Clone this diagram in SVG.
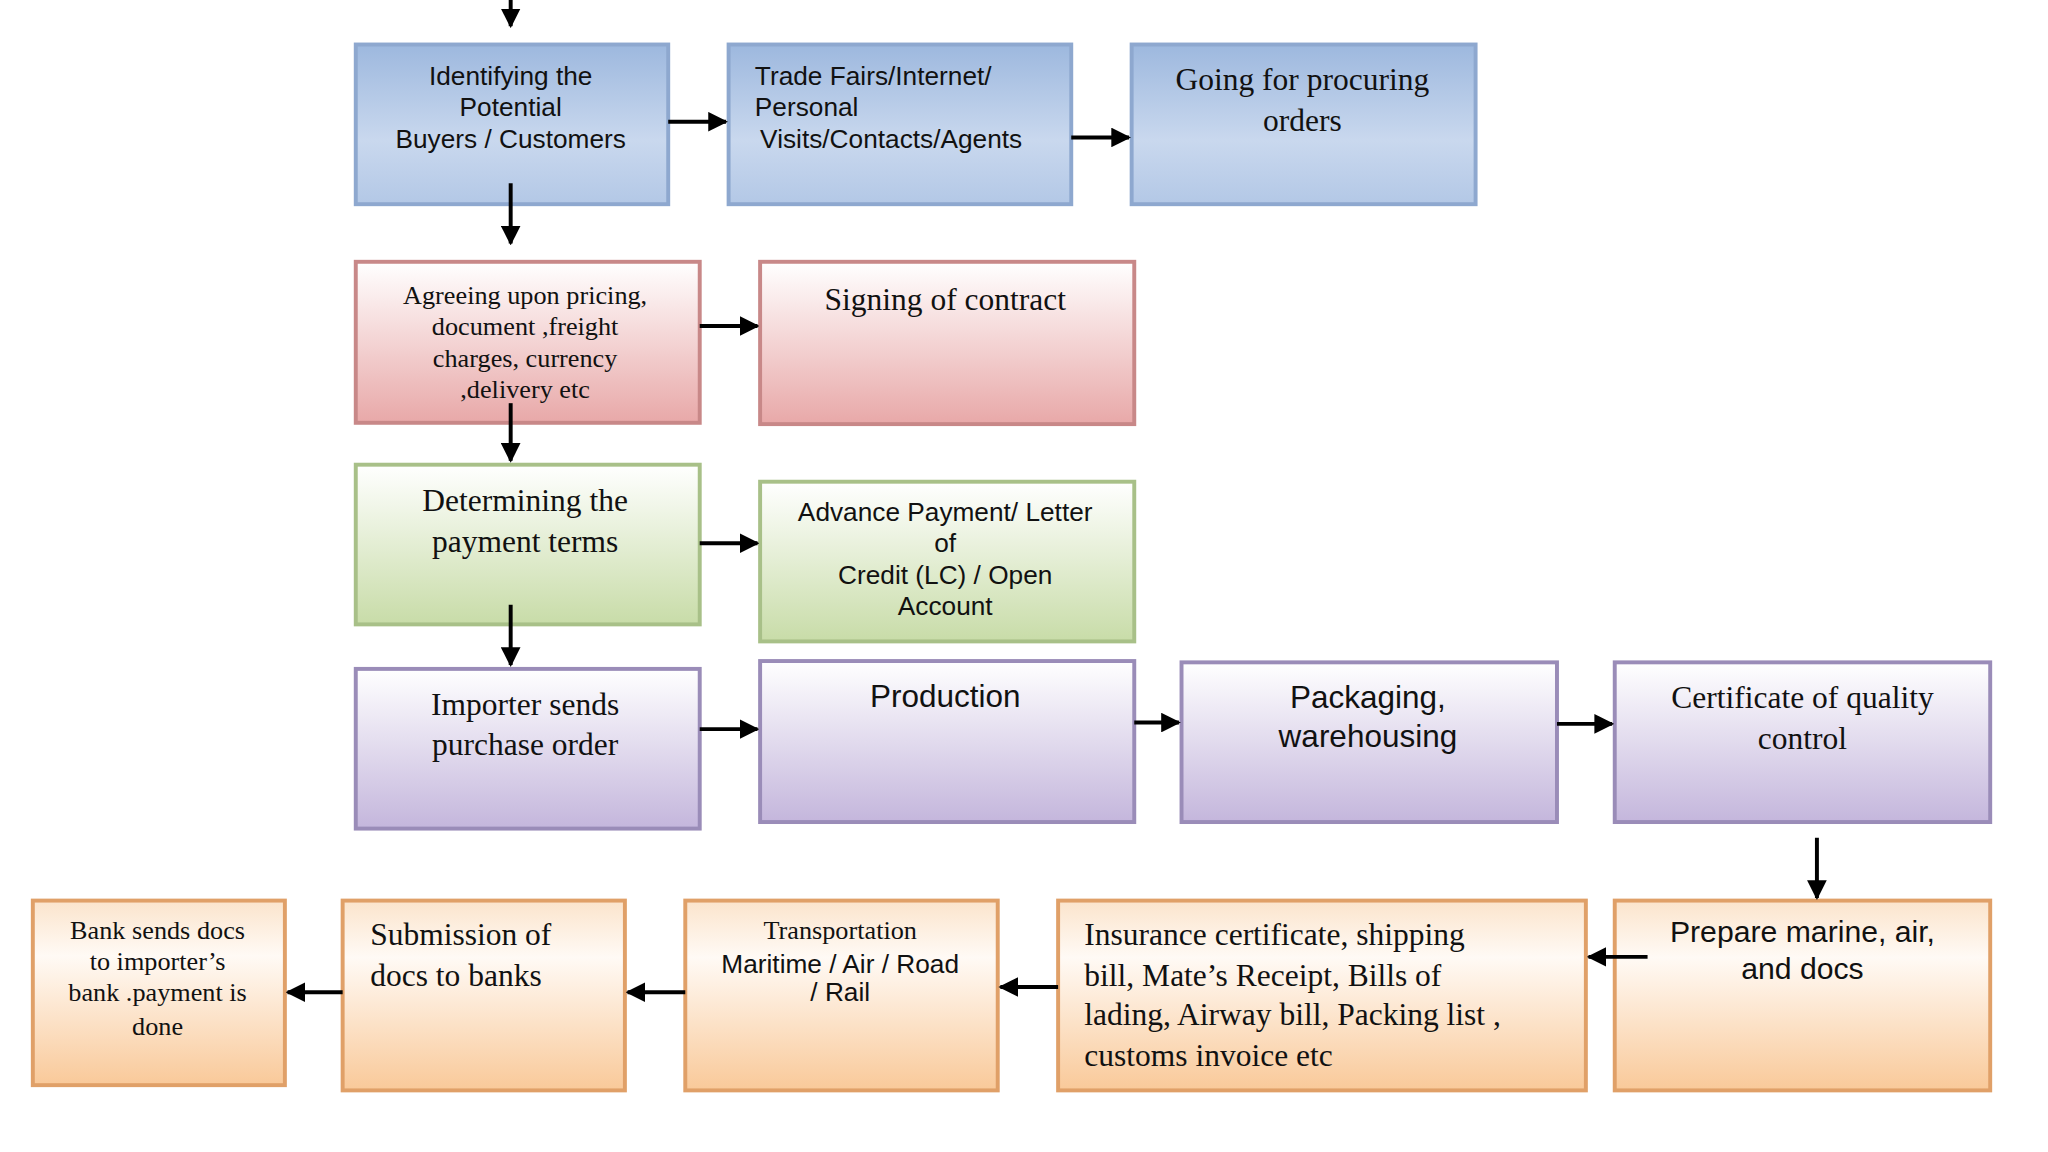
<svg xmlns="http://www.w3.org/2000/svg" width="2048" height="1152" viewBox="0 0 2048 1152">
<defs>
<linearGradient id="gb" x1="0" y1="0" x2="0" y2="1"><stop offset="0" stop-color="#9db8de"/><stop offset="0.6" stop-color="#c9d8ee"/><stop offset="1" stop-color="#b3c8e6"/></linearGradient>
<linearGradient id="gr" x1="0" y1="0" x2="0" y2="1"><stop offset="0" stop-color="#ffffff"/><stop offset="1" stop-color="#e8a8a8"/></linearGradient>
<linearGradient id="gg" x1="0" y1="0" x2="0" y2="1"><stop offset="0" stop-color="#ffffff"/><stop offset="1" stop-color="#c8dca8"/></linearGradient>
<linearGradient id="gp" x1="0" y1="0" x2="0" y2="1"><stop offset="0" stop-color="#ffffff"/><stop offset="1" stop-color="#c4b6dc"/></linearGradient>
<linearGradient id="go" x1="0" y1="0" x2="0" y2="1"><stop offset="0" stop-color="#fbe4cc"/><stop offset="0.3" stop-color="#fffaf5"/><stop offset="1" stop-color="#f9c999"/></linearGradient>
<marker id="ah" viewBox="0 0 10 10" refX="9" refY="5" markerWidth="5" markerHeight="5" orient="auto"><path d="M0,0L10,5L0,10z" fill="#000"/></marker>
</defs>
<style>
.b{stroke:#8ea8cf;stroke-width:3;fill:url(#gb)}
.r{stroke:#c88888;stroke-width:3;fill:url(#gr)}
.g{stroke:#a8c088;stroke-width:3;fill:url(#gg)}
.p{stroke:#9a8cb8;stroke-width:3;fill:url(#gp)}
.o{stroke:#e0a068;stroke-width:3;fill:url(#go)}
.s{font-family:"Liberation Sans",Arial,sans-serif;font-size:20px;fill:#111}
.t{font-family:"Liberation Serif","Times New Roman",serif;font-size:24px;fill:#111}
.c line{stroke:#000;stroke-width:3;marker-end:url(#ah)}
</style>
<rect width="2048" height="1152" fill="#fff"/>
<g transform="scale(1.3128,1.309)">
<g id="nA"><rect class="b" x="271" y="34" width="238" height="122"/><text class="s" text-anchor="middle"><tspan x="389" y="65">Identifying the</tspan><tspan x="389" y="89">Potential</tspan><tspan x="389" y="113">Buyers / Customers</tspan></text></g>
<g id="nB"><rect class="b" x="555" y="34" width="261" height="122"/><text class="s"><tspan x="575" y="65">Trade Fairs/Internet/</tspan><tspan x="575" y="89">Personal</tspan><tspan x="579" y="113">Visits/Contacts/Agents</tspan></text></g>
<g id="nC"><rect class="b" x="862" y="34" width="262" height="122"/><text class="t" text-anchor="middle"><tspan x="992" y="69">Going for procuring</tspan><tspan x="992" y="100">orders</tspan></text></g>
<g id="nD"><rect class="r" x="271" y="200" width="262" height="123"/><text class="t" text-anchor="middle" style="font-size:20px"><tspan x="400" y="232">Agreeing upon pricing,</tspan><tspan x="400" y="256">document ,freight</tspan><tspan x="400" y="280">charges, currency</tspan><tspan x="400" y="304">,delivery etc</tspan></text></g>
<g id="nE"><rect class="r" x="579" y="200" width="285" height="124"/><text class="t" x="720" y="237" text-anchor="middle">Signing of contract</text></g>
<g id="nF"><rect class="g" x="271" y="355" width="262" height="122"/><text class="t" text-anchor="middle"><tspan x="400" y="390">Determining the</tspan><tspan x="400" y="422">payment terms</tspan></text></g>
<g id="nG"><rect class="g" x="579" y="368" width="285" height="122"/><text class="s" text-anchor="middle"><tspan x="720" y="398">Advance Payment/ Letter</tspan><tspan x="720" y="422">of</tspan><tspan x="720" y="446">Credit (LC) / Open</tspan><tspan x="720" y="470">Account</tspan></text></g>
<g id="nH"><rect class="p" x="271" y="511" width="262" height="122"/><text class="t" text-anchor="middle"><tspan x="400" y="546">Importer sends</tspan><tspan x="400" y="577">purchase order</tspan></text></g>
<g id="nI"><rect class="p" x="579" y="505" width="285" height="123"/><text class="s" x="720" y="540" text-anchor="middle" style="font-size:24px">Production</text></g>
<g id="nJ"><rect class="p" x="900" y="506" width="286" height="122"/><text class="s" text-anchor="middle" style="font-size:24px"><tspan x="1042" y="541">Packaging,</tspan><tspan x="1042" y="571">warehousing</tspan></text></g>
<g id="nK"><rect class="p" x="1230" y="506" width="286" height="122"/><text class="t" text-anchor="middle"><tspan x="1373" y="541">Certificate of quality</tspan><tspan x="1373" y="572">control</tspan></text></g>
<g id="nL"><rect class="o" x="25" y="688" width="192" height="141"/><text class="t" text-anchor="middle" style="font-size:20px"><tspan x="120" y="717">Bank sends docs</tspan><tspan x="120" y="741">to importer’s</tspan><tspan x="120" y="765">bank .payment is</tspan><tspan x="120" y="791">done</tspan></text></g>
<g id="nM"><rect class="o" x="261" y="688" width="215" height="145"/><text class="t"><tspan x="282" y="722">Submission of</tspan><tspan x="282" y="753">docs to banks</tspan></text></g>
<g id="nN"><rect class="o" x="522" y="688" width="238" height="145"/><text class="s" text-anchor="middle"><tspan x="640" y="717" style="font-family:'Liberation Serif',serif">Transportation</tspan><tspan x="640" y="743">Maritime / Air / Road</tspan><tspan x="640" y="765">/ Rail</tspan></text></g>
<g id="nO"><rect class="o" x="806" y="688" width="402" height="145"/><text class="t"><tspan x="826" y="722">Insurance certificate, shipping</tspan><tspan x="826" y="753">bill, Mate’s Receipt, Bills of</tspan><tspan x="826" y="783">lading, Airway bill, Packing list ,</tspan><tspan x="826" y="814">customs invoice etc</tspan></text></g>
<g id="nP"><rect class="o" x="1230" y="688" width="286" height="145"/><text class="s" text-anchor="middle" style="font-size:23px"><tspan x="1373" y="720">Prepare marine, air,</tspan><tspan x="1373" y="748">and docs</tspan></text></g>
<g id="connectors" class="c">
<line x1="389" y1="0" x2="389" y2="20"/>
<line x1="389" y1="140" x2="389" y2="186"/>
<line x1="509" y1="93" x2="553" y2="93"/>
<line x1="816" y1="105" x2="860" y2="105"/>
<line x1="533" y1="249" x2="577" y2="249"/>
<line x1="389" y1="308" x2="389" y2="352"/>
<line x1="533" y1="415" x2="577" y2="415"/>
<line x1="389" y1="462" x2="389" y2="508"/>
<line x1="533" y1="557" x2="577" y2="557"/>
<line x1="864" y1="552" x2="898" y2="552"/>
<line x1="1186" y1="553" x2="1228" y2="553"/>
<line x1="1384" y1="640" x2="1384" y2="686"/>
<line x1="1255" y1="731" x2="1210" y2="731"/>
<line x1="806" y1="754" x2="762" y2="754"/>
<line x1="522" y1="758" x2="478" y2="758"/>
<line x1="261" y1="758" x2="219" y2="758"/>
</g>
</g>
</svg>
